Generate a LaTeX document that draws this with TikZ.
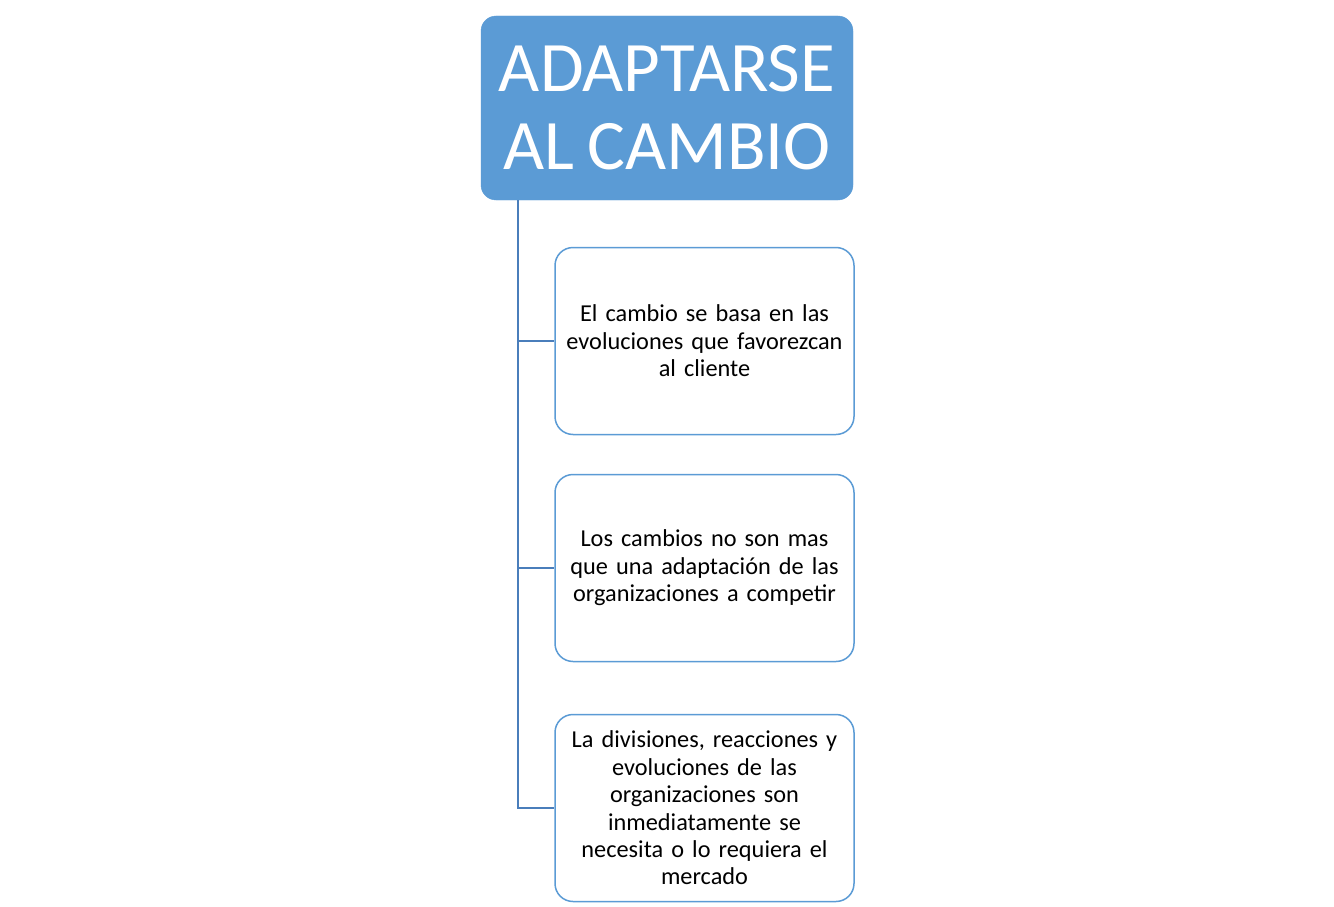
\documentclass[tikz,border=0pt]{standalone}
\usepackage{fontspec}
\setmainfont{Carlito}[WordSpace=0.85]
\usetikzlibrary{positioning}
\definecolor{boxblue}{HTML}{5B9BD5}
\definecolor{linkblue}{HTML}{4A7EBB}
\tikzset{
  titlebox/.style={fill=boxblue, draw=boxblue, rounded corners=15pt, minimum width=372pt, minimum height=184pt,
    text=white, align=center, inner sep=0pt, font=\fontsize{71}{78}\selectfont},
  itembox/.style={fill=white, draw=boxblue, line width=1.5pt, rounded corners=18pt, minimum width=299pt, minimum height=187pt,
    text width=292pt, align=center, inner sep=0pt, font=\fontsize{24.3}{27.4}\selectfont},
  link/.style={draw=linkblue, line width=1.6pt}
}
\begin{document}
\begin{tikzpicture}[x=1pt, y=-1pt]
  \useasboundingbox (0,0) rectangle (1334,907);

  \node[titlebox] (title) at (667,108) {ADAPTARSE\\AL CAMBIO};

  \node[itembox] (b1) at (704.5,341) {El cambio se basa en las\\evoluciones que favorezcan\\al cliente};
  \node[itembox, below=38.5pt of b1] (b2) {Los cambios no son mas\\que una adaptación de las\\organizaciones a competir};
  \node[itembox, below=51.5pt of b2] (b3) {La divisiones, reacciones y\\evoluciones de las\\organizaciones son\\inmediatamente se\\necesita o lo requiera el\\mercado};

  \coordinate (trunk) at ([xshift=37pt]title.south west);
  \draw[link] (trunk) |- (b3.west);
  \draw[link] (trunk |- b1.west) -- (b1.west);
  \draw[link] (trunk |- b2.west) -- (b2.west);
\end{tikzpicture}
\end{document}
